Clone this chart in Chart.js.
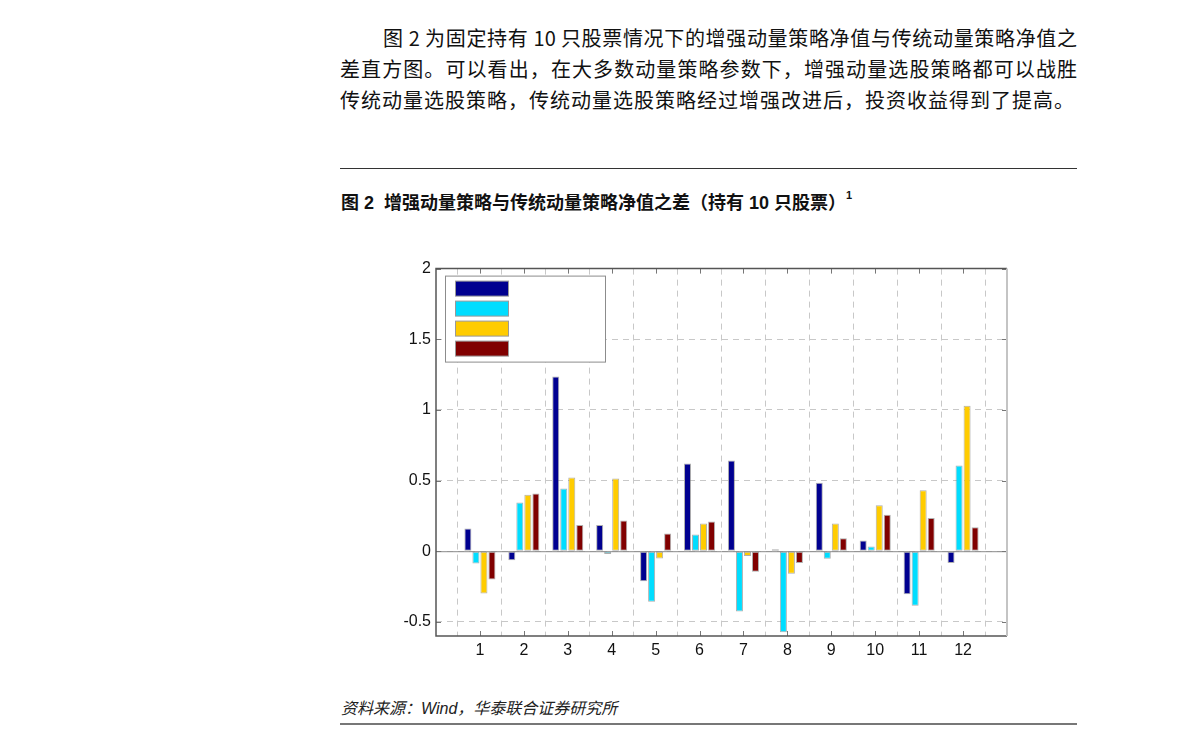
<!DOCTYPE html>
<html>
<head>
<meta charset="utf-8">
<script src="https://cdn.jsdelivr.net/npm/chart.js@4.4.0/dist/chart.umd.min.js"></script>
<style>
  body { margin:0; background:#fff; width:1191px; height:739px; position:relative; overflow:hidden; font-family:"Noto Sans CJK SC", sans-serif; color:#111; }
  .para { position:absolute; left:340px; top:22px; width:737px; font-size:20px; line-height:31px; }
  .para div { white-space:nowrap; }
  .para .j { text-align:justify; text-align-last:justify; white-space:normal; }
  .rule1 { position:absolute; left:340px; top:168px; width:737px; height:1px; background:#333; }
  .title { position:absolute; left:341px; top:186px; font-size:18px; font-weight:bold; line-height:24px; font-family:"Liberation Sans","Noto Sans CJK SC",sans-serif; }
  .title sup { font-size:11px; position:relative; top:-3px; }
  .src { position:absolute; left:341px; top:698px; font-size:16px; font-style:italic; line-height:22px; color:#222; font-family:"Liberation Sans","Noto Sans CJK SC",sans-serif; }
  .rule2 { position:absolute; left:340px; top:723px; width:737px; height:2px; background:#777; }
  #wrap { position:absolute; left:386px; top:254px; width:630px; height:416px; }
</style>
</head>
<body>
<div class="para">
  <div class="j" style="text-indent:43px">图 2 为固定持有 10 只股票情况下的增强动量策略净值与传统动量策略净值之</div>
  <div class="j">差直方图。可以看出，在大多数动量策略参数下，增强动量选股策略都可以战胜</div>
  <div style="letter-spacing:1px">传统动量选股策略，传统动量选股策略经过增强改进后，投资收益得到了提高。</div>
</div>
<div class="rule1"></div>
<div class="title">图 2&nbsp; 增强动量策略与传统动量策略净值之差（持有 10 只股票）<sup>1</sup></div>
<div id="wrap"><canvas id="c"></canvas></div>
<div class="src">资料来源：Wind，华泰联合证券研究所</div>
<div class="rule2"></div>
<script>
// groups 1..12
const categories = ['1','2','3','4','5','6','7','8','9','10','11','12'];
const seriesA = [0.16, -0.064, 1.237, 0.186, -0.212, 0.62, 0.642, 0.014, 0.485, 0.075, -0.304, -0.084];
const seriesB = [-0.087, 0.344, 0.443, -0.019, -0.358, 0.118, -0.426, -0.574, -0.054, 0.033, -0.386, 0.607];
const seriesC = [-0.30, 0.40, 0.521, 0.514, -0.052, 0.196, -0.033, -0.159, 0.197, 0.326, 0.431, 1.029];
const seriesD = [-0.20, 0.408, 0.186, 0.217, 0.125, 0.21, -0.145, -0.084, 0.092, 0.258, 0.235, 0.169];
const yTicks = [-0.5, 0, 0.5, 1, 1.5, 2];
const colors = ['#000090', '#00ddff', '#ffcc00', '#800000'];

// empty slot at each end so the axis runs 0..13 like the original
const pad = arr => [null].concat(arr, [null]);
const labels = [''].concat(categories, ['']);

const frame = {
  id: 'frame',
  beforeDatasetsDraw(chart) {
    const ctx = chart.ctx, a = chart.chartArea, y0 = chart.scales.y.getPixelForValue(0);
    ctx.save();
    ctx.strokeStyle = '#8a8a8a'; ctx.lineWidth = 1;
    ctx.beginPath(); ctx.moveTo(a.left, y0 + 0.5); ctx.lineTo(a.right, y0 + 0.5); ctx.stroke();
    ctx.restore();
  },
  afterDatasetsDraw(chart) {
    const ctx = chart.ctx, a = chart.chartArea;
    ctx.save();
    // tick marks
    ctx.strokeStyle = '#777'; ctx.lineWidth = 1;
    chart.scales.y.ticks.forEach(t => {
      const y = Math.round(chart.scales.y.getPixelForValue(t.value)) + 0.5;
      ctx.beginPath(); ctx.moveTo(a.left, y); ctx.lineTo(a.left + 5, y);
      ctx.moveTo(a.right, y); ctx.lineTo(a.right - 5, y); ctx.stroke();
    });
    categories.forEach((c, i) => {
      const x = Math.round(chart.scales.x.getPixelForValue(i + 1)) + 0.5;
      ctx.beginPath(); ctx.moveTo(x, a.bottom); ctx.lineTo(x, a.bottom - 5);
      ctx.moveTo(x, a.top); ctx.lineTo(x, a.top + 5); ctx.stroke();
    });
    // box
    ctx.strokeStyle = '#555'; ctx.lineWidth = 1.5;
    ctx.beginPath();
    ctx.moveTo(a.right, a.top); ctx.lineTo(a.left, a.top); ctx.lineTo(a.left, a.bottom); ctx.lineTo(a.right, a.bottom);
    ctx.stroke();
    ctx.strokeStyle = '#c4c4c4'; ctx.lineWidth = 2;
    ctx.beginPath(); ctx.moveTo(a.right, a.top); ctx.lineTo(a.right, a.bottom); ctx.stroke();
    // legend box (series have no names in the original)
    const bx = a.left + 9.5, by = a.top + 7.5;
    ctx.fillStyle = '#fff'; ctx.fillRect(bx, by, 160, 86);
    ctx.strokeStyle = '#8c8c8c'; ctx.lineWidth = 1; ctx.strokeRect(bx, by, 160, 86);
    chart.data.datasets.forEach((ds, i) => {
      ctx.fillStyle = ds.backgroundColor;
      ctx.fillRect(bx + 10, by + 5 + i * 20, 53, 15);
      ctx.strokeStyle = '#999'; ctx.strokeRect(bx + 10, by + 5 + i * 20, 53, 15);
    });
    ctx.restore();
  }
};

new Chart(document.getElementById('c'), {
  type: 'bar',
  data: {
    labels: labels,
    datasets: [seriesA, seriesB, seriesC, seriesD].map((s, i) => ({
      label: '', data: pad(s), backgroundColor: colors[i],
      borderColor: 'rgba(110,110,110,0.55)', borderWidth: 1, borderSkipped: false
    }))
  },
  options: {
    responsive: true, maintainAspectRatio: false, animation: false,
    layout: { padding: { top: 7, right: 9, left: 0, bottom: 0 } },
    datasets: { bar: { categoryPercentage: 0.73, barPercentage: 0.875 } },
    plugins: { legend: { display: false }, tooltip: { enabled: false } },
    scales: {
      x: {
        offset: false,
        grid: { color: '#c8c8c8', drawTicks: false },
        border: { display: false, dash: [6, 5] },
        ticks: { padding: 5, color: '#111', font: { family: 'Liberation Sans', size: 16 }, maxRotation: 0, autoSkip: false },
        afterFit: s => { s.height = 34; }
      },
      y: {
        min: -0.6, max: 2,
        afterBuildTicks: s => { s.ticks = yTicks.map(v => ({ value: v })); },
        grid: { color: '#c8c8c8', drawTicks: false },
        border: { display: false, dash: [6, 5] },
        ticks: { padding: 5, color: '#111', font: { family: 'Liberation Sans', size: 16 }, callback: v => String(v) },
        afterFit: s => { s.width = 50; }
      }
    }
  },
  plugins: [frame]
});
</script>
</body>
</html>
